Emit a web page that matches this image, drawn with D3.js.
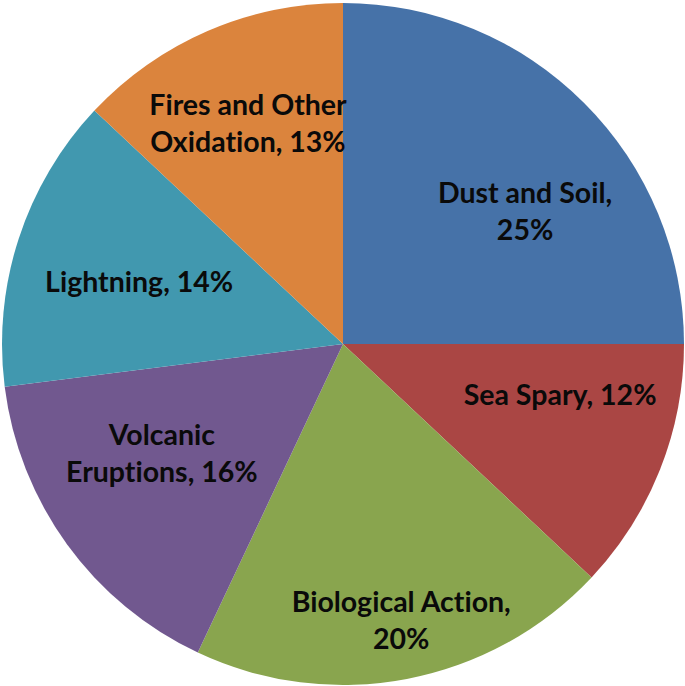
<!DOCTYPE html>
<html>
<head>
<meta charset="utf-8">
<script src="https://cdn.jsdelivr.net/npm/d3@7"></script>
<style>
  html, body { margin: 0; padding: 0; background: #fff; }
  svg text {
    font-family: Lato, "Open Sans", sans-serif;
    font-weight: bold;
    fill: #0a0a0a;
    font-variant-ligatures: none;
    font-feature-settings: "liga" 0, "clig" 0;
  }
</style>
</head>
<body>
<svg id="chart" width="685" height="686"></svg>
<script>
const categories = ["Dust and Soil", "Sea Spary", "Biological Action", "Volcanic Eruptions", "Lightning", "Fires and Other Oxidation"];
const shares = [25, 12, 20, 16, 14, 13];
// how each label wraps, as Excel did it
const labelLines = [
    ["Dust and Soil,", "25%"],
    ["Sea Spary, 12%"],
    ["Biological Action,", "20%"],
    ["Volcanic", "Eruptions, 16%"],
    ["Lightning, 14%"],
    ["Fires and Other", "Oxidation, 13%"]
];

const colors = ["#4672A8", "#AA4644", "#89A54E", "#71588F", "#4198AF", "#DB843D"];
// label placement: radius as fraction of pie radius, angle nudge in degrees
const labelRadius = [0.644, 0.661, 0.856, 0.637, 0.617, 0.677];
const labelShift = [11, -6, -0.7, 2.5, -3.7, -0.9];

const width = 685, height = 686;
const cx = 343, cy = 344, radius = 341;
const lineGap = 37;

const svg = d3.select("#chart");
const g = svg.append("g").attr("transform", `translate(${cx},${cy})`);

const data = categories.map((c, i) => ({ name: c, value: shares[i], lines: labelLines[i], i }));

const color = d3.scaleOrdinal().domain(categories).range(colors);

const pie = d3.pie().sort(null).value((d) => d.value);
const arc = d3.arc().innerRadius(0).outerRadius(radius);
const arcs = pie(data);

g.selectAll("path")
    .data(arcs)
    .enter()
    .append("path")
    .attr("d", arc)
    .attr("fill", (d) => color(d.data.name));

// labels
const labels = g.selectAll("text")
    .data(arcs)
    .enter()
    .append("text")
    .attr("text-anchor", "middle")
    .attr("font-size", 28.5)
    .attr("transform", (d) => {
        const i = d.data.i;
        const a = (d.startAngle + d.endAngle) / 2 + labelShift[i] * Math.PI / 180;
        const r = radius * labelRadius[i];
        const x = Math.sin(a) * r;
        const y = -Math.cos(a) * r;
        return `translate(${x},${y})`;
    });

labels.selectAll("tspan")
    .data((d) => d.data.lines.map((l, k) => ({ l, k, n: d.data.lines.length })))
    .enter()
    .append("tspan")
    .attr("x", 0)
    .attr("y", (t) => (t.k - (t.n - 1) / 2) * lineGap)
    .text((t) => t.l);
</script>
</body>
</html>
